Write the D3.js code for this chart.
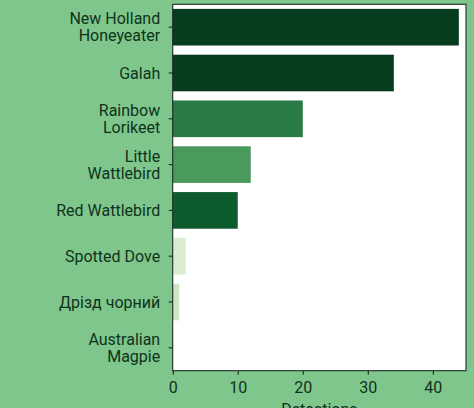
<!DOCTYPE html>
<html>
<head>
<meta charset="utf-8">
<script src="https://cdn.jsdelivr.net/npm/d3@7"></script>
<style>
  html, body { margin: 0; padding: 0; background: #7ec68b; }
  svg { display: block; }
</style>
</head>
<body>
<svg id="chart" width="474" height="408"></svg>
<script>
// Data
const categories = ["New Holland\nHoneyeater", "Galah", "Rainbow\nLorikeet", "Little\nWattlebird", "Red Wattlebird", "Spotted Dove", "Дрізд чорний", "Australian\nMagpie"];
const values = [44, 34, 20, 12, 10, 2, 1, 0];
const barColors = ["#083c1e", "#083c1e", "#2a7a46", "#4a995d", "#0e5c2d", "#d9edd3", "#cde5c5", "#f2f9ef"];
const xTicks = [0, 10, 20, 30, 40];
const xLabel = "Detections";

const W = 474, H = 408;
const plot = { left: 172.7, right: 466, top: 4.3, bottom: 370.7 };
const textColor = "#0f331c";
const font = "Roboto, 'DejaVu Sans', sans-serif";

const svg = d3.select("#chart");
svg.append("rect").attr("width", W).attr("height", H).attr("fill", "#7ec68b");

const x = d3.scaleLinear().domain([0, 45.1]).range([plot.left, plot.right]);
const y = d3.scaleBand().domain(categories).range([plot.top, plot.bottom]).paddingInner(0.2).paddingOuter(0.1);

// plot background
svg.append("rect")
  .attr("x", plot.left).attr("y", plot.top)
  .attr("width", plot.right - plot.left).attr("height", plot.bottom - plot.top)
  .attr("fill", "#ffffff");

// bars
svg.append("g").selectAll("rect").data(categories).join("rect")
  .attr("x", x(0))
  .attr("y", d => y(d))
  .attr("width", (d, i) => x(values[i]) - x(0))
  .attr("height", y.bandwidth())
  .attr("fill", (d, i) => barColors[i]);

// frame
svg.append("rect")
  .attr("x", plot.left).attr("y", plot.top)
  .attr("width", plot.right - plot.left).attr("height", plot.bottom - plot.top)
  .attr("fill", "none").attr("stroke", "#1b2b1f").attr("stroke-width", 1.1);

// x axis
const xAxis = d3.axisBottom(x).tickValues(xTicks).tickSize(4).tickPadding(7).tickFormat(d3.format("d"));
const gx = svg.append("g").attr("transform", `translate(0,${plot.bottom})`).call(xAxis);
gx.select(".domain").remove();
gx.selectAll(".tick line").attr("stroke", "#1b2b1f").attr("stroke-width", 1.1);
gx.selectAll(".tick text").attr("fill", textColor).attr("font-family", font).attr("font-size", 16);

// y axis
const yAxis = d3.axisLeft(y).tickSize(4).tickPadding(9).tickFormat("");
const gy = svg.append("g").attr("transform", `translate(${plot.left},0)`).call(yAxis);
gy.select(".domain").remove();
gy.selectAll(".tick line").attr("stroke", "#1b2b1f").attr("stroke-width", 1.1);

// multi-line y labels
const lh = 17.3;
gy.selectAll(".tick").each(function(d) {
  const lines = d.split("\n");
  const t = d3.select(this).append("text")
    .attr("x", -12.5)
    .attr("fill", textColor)
    .attr("font-family", font)
    .attr("font-size", 16)
    .attr("text-anchor", "end");
  const off = -(lines.length - 1) / 2 * lh;
  lines.forEach((ln, k) => {
    t.append("tspan").attr("x", -12.5).attr("y", off + k * lh).attr("dy", "0.35em").text(ln);
  });
});

// x label
svg.append("text")
  .attr("x", (plot.left + plot.right) / 2)
  .attr("y", 415)
  .attr("text-anchor", "middle")
  .attr("fill", textColor)
  .attr("font-family", font)
  .attr("font-size", 16)
  .text(xLabel);
</script>
</body>
</html>
